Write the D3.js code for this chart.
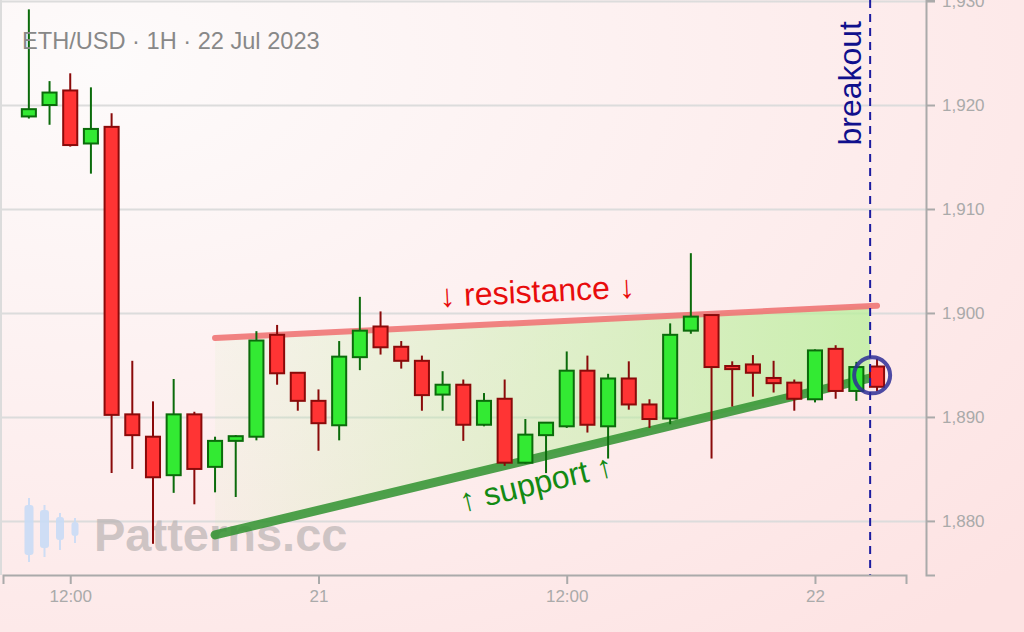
<!DOCTYPE html>
<html>
<head>
<meta charset="utf-8">
<script src="https://cdn.jsdelivr.net/npm/d3@7/dist/d3.min.js"></script>
<style>
  html, body { margin: 0; padding: 0; }
  body { width: 1024px; height: 632px; overflow: hidden; }
  svg { display: block; font-family: "Liberation Sans", Arial, sans-serif; }
</style>
</head>
<body>
<svg id="chart" width="1024" height="632"></svg>
<script>
// ETH/USD hourly candles, 20 Jul 2023 10:00 UTC onwards
const firstCandle = "2023-07-20T10:00:00Z";
const open  = [1918.9, 1920.0, 1921.4, 1916.3, 1917.9, 1890.25, 1888.1, 1884.4, 1890.25, 1885.2,
               1887.7, 1888.1, 1897.9, 1894.25, 1891.55, 1889.2, 1895.75, 1898.7, 1896.75, 1895.4,
               1892.15, 1893.1, 1889.25, 1891.75, 1885.6, 1888.25, 1889.1, 1894.45, 1889.1, 1893.7,
               1891.2, 1889.85, 1898.3, 1899.8, 1894.9, 1895.05, 1893.75, 1893.3, 1891.7, 1896.55,
               1892.5, 1894.85];
const high  = [1929.2, 1922.3, 1923.05, 1921.7, 1919.2, 1895.4, 1891.5, 1893.65, 1890.5, 1888.1,
               1888.25, 1898.25, 1898.85, 1894.25, 1892.65, 1897.3, 1901.55, 1900.15, 1897.3, 1895.9,
               1894.4, 1893.6, 1892.3, 1893.6, 1889.8, 1889.45, 1896.3, 1895.9, 1894.15, 1895.35,
               1891.7, 1899.0, 1905.75, 1899.8, 1895.35, 1895.95, 1895.4, 1893.6, 1896.5, 1896.9,
               1895.3, 1895.6];
const low   = [1918.7, 1918.1, 1916.0, 1913.4, 1884.6, 1885.0, 1877.8, 1882.7, 1881.6, 1882.75,
               1882.3, 1887.75, 1893.1, 1890.6, 1886.75, 1887.75, 1894.5, 1896.0, 1894.65, 1890.6,
               1890.6, 1887.7, 1889.1, 1885.3, 1885.5, 1884.6, 1888.95, 1888.5, 1886.0, 1890.7,
               1888.95, 1889.3, 1898.0, 1886.0, 1891.0, 1891.95, 1892.35, 1890.6, 1891.4, 1891.75,
               1891.55, 1892.5];
const close = [1919.6, 1921.2, 1916.15, 1917.7, 1890.2, 1888.25, 1884.2, 1890.25, 1885.0, 1887.7,
               1888.15, 1897.35, 1894.2, 1891.55, 1889.4, 1895.8, 1898.3, 1896.7, 1895.4, 1892.1,
               1893.1, 1889.25, 1891.55, 1885.6, 1888.3, 1889.45, 1894.45, 1889.25, 1893.7, 1891.2,
               1889.8, 1897.9, 1899.65, 1894.8, 1894.6, 1894.25, 1893.25, 1891.75, 1896.4, 1892.5,
               1894.8, 1892.9];

// Rising wedge trend lines: [time, price]
const resistance = [["2023-07-20T19:00:00Z", 1897.6], ["2023-07-22T03:00:00Z", 1900.7]];
const support    = [["2023-07-20T19:00:00Z", 1878.65], ["2023-07-22T03:00:00Z", 1893.9]];
const breakoutTime = "2023-07-22T02:40:00Z";
const breakoutPrice = 1894.0;

// Axis ticks
const xTickTimes  = ["2023-07-20T12:00:00Z", "2023-07-21T00:00:00Z", "2023-07-21T12:00:00Z", "2023-07-22T00:00:00Z"];
const xTickLabels = ["12:00", "21", "12:00", "22"];
const yTickValues = [1880, 1890, 1900, 1910, 1920, 1930];

const title = "ETH/USD · 1H · 22 Jul 2023";

const svg = d3.select("#chart");
const W = 1024, H = 632;
const plot = { left: 3, right: 906, top: 0, bottom: 575, axisX: 926 };

// background
const defs = svg.append("defs");
const bg = defs.append("radialGradient").attr("id", "bg")
  .attr("cx", "0.1").attr("cy", "0.1").attr("r", "1.2");
bg.append("stop").attr("offset", "0").attr("stop-color", "#fdfbfb");
bg.append("stop").attr("offset", "1").attr("stop-color", "#fde3e3");
svg.append("rect").attr("width", W).attr("height", H).attr("fill", "url(#bg)");

const x = d3.scaleUtc()
  .domain([new Date("2023-07-20T08:45:00Z"), new Date("2023-07-22T04:24:00Z")])
  .range([plot.left, plot.right]);
const y = d3.scaleLinear().domain([1874.8, 1930.1]).range([plot.bottom, plot.top]);

const t0 = new Date(firstCandle);
const candles = open.map((o, i) => ({
  t: d3.utcHour.offset(t0, i), o, h: high[i], l: low[i], c: close[i]
}));

// grid
svg.append("g").selectAll("line").data(yTickValues).join("line")
  .attr("x1", 0).attr("x2", plot.axisX)
  .attr("y1", d => Math.round(y(d)) + 0.5).attr("y2", d => Math.round(y(d)) + 0.5)
  .attr("stroke", "#dcdcdc").attr("stroke-width", 2);
svg.append("line").attr("x1", 1).attr("x2", 1).attr("y1", 0).attr("y2", plot.bottom)
  .attr("stroke", "#dcdcdc").attr("stroke-width", 2);

// wedge fill
const tr = (p) => [new Date(p[0]), p[1]];
const lerp = (line, t) => {
  const [a, b] = line.map(tr);
  const f = (t - a[0]) / (b[0] - a[0]);
  return a[1] + f * (b[1] - a[1]);
};
const tb = new Date(breakoutTime);
const tStart = new Date(resistance[0][0]);
const wedge = [
  [tStart, lerp(resistance, tStart)], [tb, lerp(resistance, tb)],
  [tb, lerp(support, tb)], [tStart, lerp(support, tStart)]
];
const wg = defs.append("linearGradient").attr("id", "wedge")
  .attr("x1", "0").attr("x2", "1").attr("y1", "0").attr("y2", "0");
wg.append("stop").attr("offset", "0").attr("stop-color", "#b8f09a").attr("stop-opacity", 0.08);
wg.append("stop").attr("offset", "1").attr("stop-color", "#b8f09a").attr("stop-opacity", 0.75);
svg.append("path")
  .attr("d", d3.line().x(d => x(d[0])).y(d => y(d[1]))(wedge) + "Z")
  .attr("fill", "url(#wedge)");

// watermark
const wm = svg.append("g").attr("opacity", 0.9);
const iconX = [29, 44.5, 60, 75];
const iconWick = [[498, 562], [505, 557], [513, 550], [518, 543]];
const iconBody = [[505, 555], [510, 548], [517, 540], [522, 536]];
const iconW = [9, 9, 8, 7];
iconX.forEach((cx, i) => {
  wm.append("line").attr("x1", cx).attr("x2", cx).attr("y1", iconWick[i][0]).attr("y2", iconWick[i][1])
    .attr("stroke", "#c9dcf6").attr("stroke-width", 2);
  wm.append("rect").attr("x", cx - iconW[i] / 2).attr("y", iconBody[i][0])
    .attr("width", iconW[i]).attr("height", iconBody[i][1] - iconBody[i][0])
    .attr("rx", 3).attr("fill", "#c9dcf6");
});
wm.append("text").attr("x", 94).attr("y", 551)
  .attr("font-size", 47).attr("font-weight", "bold").attr("fill", "#b9b2b2").attr("fill-opacity", 0.75)
  .text("Patterns.cc");

// trend lines
const lineGen = d3.line().x(d => x(new Date(d[0]))).y(d => y(d[1]));
svg.append("path").attr("d", lineGen(support)).attr("fill", "none")
  .attr("stroke", "#2f922f").attr("stroke-opacity", 0.85).attr("stroke-width", 9).attr("stroke-linecap", "round");
svg.append("path").attr("d", lineGen(resistance)).attr("fill", "none")
  .attr("stroke", "#f07676").attr("stroke-opacity", 0.9).attr("stroke-width", 6).attr("stroke-linecap", "round");

// candles
const hourPx = x(d3.utcHour.offset(t0, 1)) - x(t0);
const bw = hourPx * 0.68;
const cg = svg.append("g");
const up = d => d.c >= d.o;
cg.selectAll("line").data(candles).join("line")
  .attr("x1", d => x(d.t)).attr("x2", d => x(d.t))
  .attr("y1", d => y(d.h)).attr("y2", d => y(d.l))
  .attr("stroke", d => up(d) ? "#0b6b0b" : "#8a0a0a").attr("stroke-width", 2);
cg.selectAll("rect").data(candles).join("rect")
  .attr("x", d => x(d.t) - bw / 2).attr("width", bw)
  .attr("y", d => y(Math.max(d.o, d.c)))
  .attr("height", d => Math.max(1.5, Math.abs(y(d.o) - y(d.c))))
  .attr("fill", d => up(d) ? "#33ea33" : "#ff3434")
  .attr("stroke", d => up(d) ? "#0b6b0b" : "#8a0a0a").attr("stroke-width", 2);

// breakout marker
svg.append("line").attr("x1", x(tb)).attr("x2", x(tb)).attr("y1", 0).attr("y2", plot.bottom)
  .attr("stroke", "#1c1ca0").attr("stroke-width", 2).attr("stroke-dasharray", "8,6");
svg.append("circle").attr("cx", x(tb) + 2).attr("cy", y(breakoutPrice)).attr("r", 18)
  .attr("fill", "none").attr("stroke", "#2e2e96").attr("stroke-opacity", 0.85).attr("stroke-width", 4);
svg.append("text")
  .attr("transform", `translate(${x(tb) - 9},21) rotate(-90)`)
  .attr("text-anchor", "end").attr("font-size", 32).attr("fill", "#10108c")
  .text("breakout");

// labels on trend lines
const midT = new Date("2023-07-21T10:35:00Z");
const rAng = Math.atan2(y(resistance[1][1]) - y(resistance[0][1]), x(new Date(resistance[1][0])) - x(new Date(resistance[0][0]))) * 180 / Math.PI;
const sAng = Math.atan2(y(support[1][1]) - y(support[0][1]), x(new Date(support[1][0])) - x(new Date(support[0][0]))) * 180 / Math.PI;
svg.append("text")
  .attr("transform", `translate(${x(midT)},${y(lerp(resistance, midT)) - 20}) rotate(${rAng})`)
  .attr("text-anchor", "middle").attr("font-size", 32).attr("fill", "#e80c0c")
  .text("↓ resistance ↓");
svg.append("text")
  .attr("transform", `translate(${x(midT) + 1},${y(lerp(support, midT)) + 36}) rotate(${sAng})`)
  .attr("text-anchor", "middle").attr("font-size", 32).attr("fill", "#138a13")
  .text("↑ support ↑");

// axes
const xAxis = d3.axisBottom(x)
  .tickValues(xTickTimes.map(d => new Date(d)))
  .tickFormat((d, i) => xTickLabels[i])
  .tickSize(9).tickSizeOuter(9).tickPadding(6);
const gx = svg.append("g").attr("transform", `translate(0,${plot.bottom})`).call(xAxis);
gx.select(".domain").attr("stroke", "#aaaaaa").attr("stroke-width", 2);
gx.selectAll(".tick line").attr("stroke", "#aaaaaa").attr("stroke-width", 2);
gx.selectAll(".tick text").attr("fill", "#aaaaaa").attr("font-size", 17).attr("font-family", "Liberation Sans, Arial, sans-serif");

const yAxis = d3.axisRight(y).tickValues(yTickValues).tickFormat(d3.format(","))
  .tickSize(9).tickSizeOuter(9).tickPadding(7);
const gy = svg.append("g").attr("transform", `translate(${plot.axisX},0)`).call(yAxis);
gy.select(".domain").attr("stroke", "#aaaaaa").attr("stroke-width", 2);
gy.selectAll(".tick line").attr("stroke", "#aaaaaa").attr("stroke-width", 2);
gy.selectAll(".tick text").attr("fill", "#aaaaaa").attr("font-size", 17).attr("font-family", "Liberation Sans, Arial, sans-serif");

// title
svg.append("text").attr("x", 22).attr("y", 49)
  .attr("font-size", 23.6).attr("fill", "#888888")
  .text(title);
</script>
</body>
</html>
